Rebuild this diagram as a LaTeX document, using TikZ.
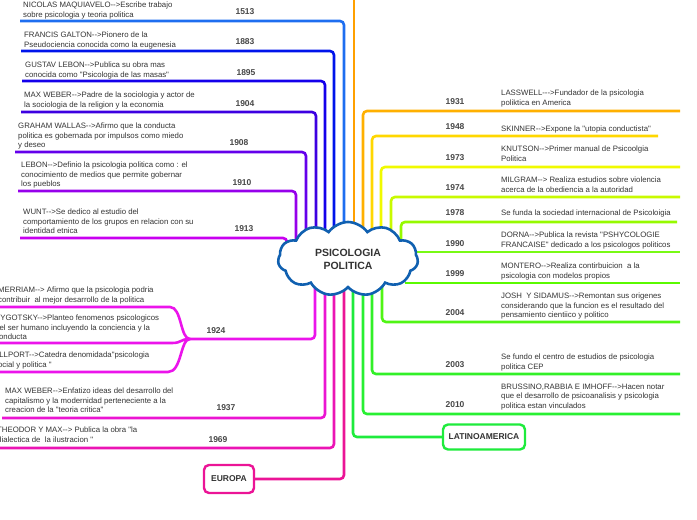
\documentclass[tikz,border=0pt]{standalone}
\usepackage{fontspec}
\setmainfont{Liberation Sans}[Ligatures=TeXOff]
\usetikzlibrary{shapes.symbols}
\definecolor{txt}{HTML}{333333}
\definecolor{corange}{RGB}{255,160,0}
\definecolor{c1513}{RGB}{30,110,240}
\definecolor{c1883}{RGB}{0,20,235}
\definecolor{c1895}{RGB}{20,0,235}
\definecolor{c1904}{RGB}{60,0,225}
\definecolor{c1908}{RGB}{100,0,235}
\definecolor{c1910}{RGB}{150,0,235}
\definecolor{c1913}{RGB}{200,0,240}
\definecolor{c1924}{RGB}{235,20,235}
\definecolor{c1937}{RGB}{235,20,210}
\definecolor{c1969}{RGB}{235,20,180}
\definecolor{ceu}{RGB}{235,20,150}
\definecolor{c1931}{RGB}{255,176,0}
\definecolor{c1948}{RGB}{255,215,0}
\definecolor{c1973}{RGB}{240,250,0}
\definecolor{c1974}{RGB}{200,250,0}
\definecolor{c1978}{RGB}{150,250,0}
\definecolor{c1990}{RGB}{120,250,20}
\definecolor{c1999}{RGB}{90,250,0}
\definecolor{c2004}{RGB}{80,245,20}
\definecolor{c2003}{RGB}{50,240,40}
\definecolor{c2010}{RGB}{40,240,50}
\definecolor{cla}{RGB}{30,235,60}
\definecolor{ccloud}{RGB}{16,96,176}
\tikzset{x=1pt,y=-1pt,
 br/.style={line width=2.6pt,rounded corners=4pt},
 desc/.style={anchor=north west,inner sep=0,align=left,font=\fontsize{7.8}{9.2}\selectfont,text=txt},
 yr/.style={inner sep=0,font=\bfseries\fontsize{8.5}{9}\selectfont,text=txt!90},
 region/.style={draw,line width=2.4pt,rounded corners=5pt,fill=white,inner sep=4pt,font=\bfseries\fontsize{8.5}{9}\selectfont,text=txt}}
\newcommand{\lbr}[9]{% vx, y, xl, color, year, yx, yy, text-y, text
 \coordinate (s#5) at (#1,258);
 \draw[br,color=#4] (s#5) |- (#3,#2);
 \node[yr] (y#5) at (#6,#7) {#5};
 \node[desc] (t#5) at (#3+3,#8) {#9};}
\newcommand{\rbr}[8]{% vx, y, xr, color, year, yy, text-y, text
 \coordinate (s#5) at (#1,258);
 \draw[br,color=#4] (s#5) |- (#3,#2);
 \node[yr] (y#5) at (455,#6) {#5};
 \node[desc] (t#5) at (501,#7) {#8};}
\begin{document}
\begin{tikzpicture}
\useasboundingbox (0,0) rectangle (697,520);
\clip (0,0) rectangle (697,520);
\coordinate (otop) at (354,0);
\coordinate (obot) at (354,258);
\draw[line width=2.6pt,color=corange] (otop) -- (obot);
% left branches
\lbr{344}{21}{20}{c1513}{1513}{245}{12}{2}{NICOLAS MAQUIAVELO-->Escribe trabajo\\sobre psicologia y teoria politica}
\lbr{334}{51}{21}{c1883}{1883}{245}{42}{32}{FRANCIS GALTON-->Pionero de la\\Pseudociencia conocida como la eugenesia}
\lbr{325}{81}{22}{c1895}{1895}{246}{73}{62}{GUSTAV LEBON-->Publica su obra mas\\conocida como "Psicologia de las masas"}
\lbr{316}{112}{21}{c1904}{1904}{245}{104}{92}{MAX WEBER-->Padre de la sociologia y actor de\\la sociologia de la religion y la economia}
\lbr{306}{152}{15}{c1908}{1908}{239}{143}{123}{GRAHAM WALLAS-->Afirmo que la conducta\\politica es gobernada por impulsos como miedo\\y deseo}
\lbr{296}{191}{18}{c1910}{1910}{242}{183}{162}{LEBON-->Definio la psicologia politica como : el\\conocimiento de medios que permite gobernar\\los pueblos}
\lbr{287}{238}{20}{c1913}{1913}{244}{229}{209}{WUNT-->Se dedico al estudio del\\comportamiento de los grupos en relacion con su\\identidad etnica}
% 1924
\coordinate (s1924) at (315,258);
\coordinate (f1924) at (190,339);
\draw[br,color=c1924] (s1924) |- (f1924);
\draw[line width=2.6pt,color=c1924]
 (f1924) .. controls (180,339) and (182,307) .. (170,307) -- (0,307)
 (f1924) .. controls (180,339) and (182,343) .. (172,343) -- (0,343)
 (f1924) .. controls (180,339) and (182,372) .. (168,372) -- (0,372);
\node[yr] (y1924) at (216,331) {1924};
\node[desc] (m1) at (-2,287) {MERRIAM--> Afirmo que la psicologia podria\\contribuir\ \ al mejor desarrollo de la politica};
\node[desc] (m2) at (-5,315) {VYGOTSKY-->Planteo fenomenos psicologicos\\del ser humano incluyendo la conciencia y la\\conducta};
\node[desc] (m3) at (-6,352) {ALLPORT-->Catedra denomidada"psicologia\\social y politica "};
\lbr{325}{418}{2}{c1937}{1937}{226}{408}{388}{MAX WEBER-->Enfatizo ideas del desarrollo del\\capitalismo y la modernidad perteneciente a la\\creacion de la "teoria critica"}
\lbr{334}{448}{0}{c1969}{1969}{218}{440}{427}{\hspace*{-6pt}THEODOR Y MAX--> Publica la obra "la\\\hspace*{-6pt}dialectica de\ \ la ilustracion "}
\coordinate (seu) at (344,258);
\node[region,draw=ceu,minimum width=50pt,minimum height=28pt] (eu) at (229,479) {EUROPA};
\draw[br,color=ceu] (seu) |- (eu.east);
% right branches
\rbr{363}{111}{680}{c1931}{1931}{102}{90}{LASSWELL--->Fundador de la psicologia\\poliktica en America}
\rbr{372}{136}{658}{c1948}{1948}{127}{126}{SKINNER-->Expone la "utopia conductista"}
\rbr{381}{167}{680}{c1973}{1973}{158}{146}{KNUTSON-->Primer manual de Psicoolgia\\Politica}
\rbr{391}{197}{680}{c1974}{1974}{188}{177}{MILGRAM--> Realiza estudios sobre violencia\\acerca de la obediencia a la autoridad}
\rbr{401}{222}{677}{c1978}{1978}{213}{210}{Se funda la sociedad internacional de Psicoloigia}
\coordinate (s1990) at (400,252);
\draw[br,color=c1990] (s1990) -- (680,252);
\node[yr] (y1990) at (455,244) {1990};
\node[desc] (t1990) at (501,232) {DORNA-->Publica la revista "PSHYCOLOGIE\\FRANCAISE" dedicado a los psicologos politicos};
\coordinate (s1999) at (405,283);
\draw[br,color=c1999] (s1999) -- (680,283);
\node[yr] (y1999) at (455,274) {1999};
\node[desc] (t1999) at (501,263) {MONTERO-->Realiza contirbuicion\ \ a la\\psicologia con modelos propios};
\rbr{382}{322}{680}{c2004}{2004}{313}{293}{JOSH\ \ Y SIDAMUS-->Remontan sus origenes\\considerando que la funcion es el resultado del\\pensamiento cientiico y politico}
\rbr{372}{374}{680}{c2003}{2003}{365}{354}{Se fundo el centro de estudios de psicologia\\politica CEP}
\rbr{363}{414}{680}{c2010}{2010}{405}{384}{BRUSSINO,RABBIA E IMHOFF-->Hacen notar\\que el desarrollo de psicoanalisis y psicologia\\politica estan vinculados}
\coordinate (sla) at (353,258);
\node[region,draw=cla,minimum width=82pt,minimum height=25pt] (la) at (484,437) {LATINOAMERICA};
\draw[br,color=cla] (sla) |- (la.west);
% central cloud
\node[cloud,cloud puffs=11,cloud puff arc=110,aspect=2,draw=ccloud,line width=2.6pt,fill=white,minimum width=140pt,minimum height=74pt,inner sep=0,align=center,font=\bfseries\fontsize{10.5}{13}\selectfont,text=txt] (c) at (348,259) {PSICOLOGIA\\POLITICA};
\end{tikzpicture}
\end{document}
